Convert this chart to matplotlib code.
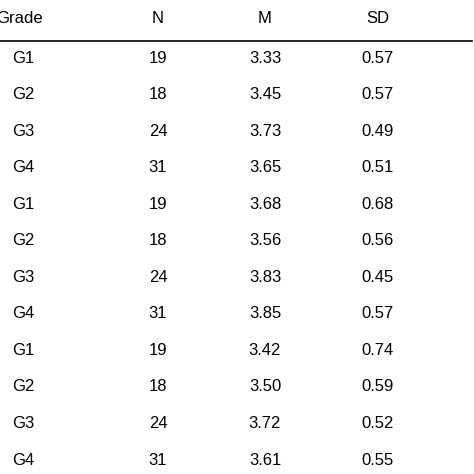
import matplotlib
matplotlib.use("Agg")
import matplotlib.pyplot as plt

headers = ["Grade", "N", "M", "SD"]
grades = ["G1", "G2", "G3", "G4"] * 3
n_vals = [19, 18, 24, 31] * 3
m_vals = ["3.33", "3.45", "3.73", "3.65", "3.68", "3.56", "3.83", "3.85", "3.42", "3.50", "3.72", "3.61"]
sd_vals = ["0.57", "0.57", "0.49", "0.51", "0.68", "0.56", "0.45", "0.57", "0.74", "0.59", "0.52", "0.55"]

fig = plt.figure(figsize=(4.74, 4.74), dpi=100)
ax = fig.add_axes([0, 0, 1, 1])
ax.set_xlim(0, 474)
ax.set_ylim(474, 0)
ax.axis("off")
fs = 12
fam = "Liberation Sans"
ax.text(-4, 18, headers[0], ha="left", va="center", fontsize=fs, family=fam)
for x, h in zip([158, 265, 378], headers[1:]):
    ax.text(x, 18, h, ha="center", va="center", fontsize=fs, family=fam)
ax.plot([0, 472], [41, 41], color="black", lw=1.2)
for i in range(len(grades)):
    y = 58 + i * 36.55
    ax.text(12, y, grades[i], ha="left", va="center", fontsize=fs, family=fam)
    ax.text(158, y, str(n_vals[i]), ha="center", va="center", fontsize=fs, family=fam)
    ax.text(265, y, m_vals[i], ha="center", va="center", fontsize=fs, family=fam)
    ax.text(378, y, sd_vals[i], ha="center", va="center", fontsize=fs, family=fam)
fig.savefig("out.png", dpi=100)
